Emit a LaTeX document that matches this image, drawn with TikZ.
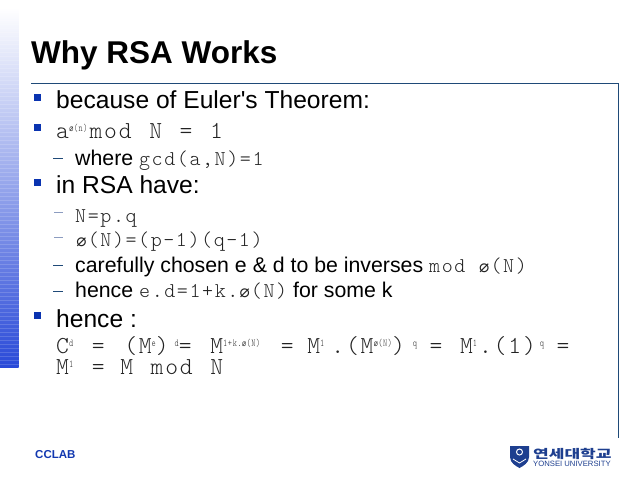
\documentclass[tikz,border=0pt]{standalone}
\usepackage{fontspec}
\setmainfont{Liberation Sans}
\setmonofont{Latin Modern Mono Light}[LetterSpace=7.5]
\definecolor{bulletblue}{HTML}{0A33B0}
\definecolor{rulenavy}{HTML}{1F4A78}
\definecolor{dashpale}{HTML}{8C9CC0}
\definecolor{monogray}{HTML}{222222}
\definecolor{barblue}{HTML}{2A4AD8}
\definecolor{labblue}{HTML}{1238B0}
\definecolor{yonsei}{HTML}{1E3F8F}
\newcommand{\mono}[2]{{\ttfamily\fontsize{#1}{#1}\selectfont\color{monogray}#2}}
\newcommand{\up}[1]{\raisebox{6.5pt}{\scalebox{0.76}[1]{\fontsize{10.5}{10.5}\selectfont #1}}}
\newcommand{\phisym}{\makebox[0.6em]{{\fontspec{DejaVu Sans}\fontsize{17}{17}\selectfont\char"2300}}}
\newcommand{\phiup}{\makebox[0.6em]{{\fontspec{DejaVu Sans}\fontsize{9}{9}\selectfont\char"2300}}}
\newcommand{\sk}[1]{\hspace{#1pt}}
\tikzset{
  body/.style={anchor=base west,inner sep=0pt,font=\fontsize{24.6}{26}\selectfont,text=black},
  sub/.style={anchor=base west,inner sep=0pt,font=\fontsize{21.3}{24}\selectfont,text=black},
  sq/.style={fill=bulletblue,minimum size=7pt,inner sep=0pt,draw=none},
}
\begin{document}
\begin{tikzpicture}[x=1pt,y=-1pt]
\useasboundingbox (0,0) rectangle (638,479);
\shade[top color=white,bottom color=barblue,shading angle=0] (0,8) rectangle (18.7,367);
\foreach \y in {12,16,...,364} \draw[white,opacity=0.16,line width=1pt] (0,\y) -- (18.7,\y);
\node[anchor=base west,inner sep=0pt,font=\bfseries\fontsize{31.5}{34}\selectfont] (title) at (31,63) {Why RSA Works};
\coordinate (ruleL) at (31,83); \coordinate (ruleR) at (618,83); \coordinate (ruleB) at (618,438);
\draw[rulenavy,line width=0.8pt] (ruleL) -- (ruleR) -- (ruleB);
\foreach \y in {97,127,182,315} \node[sq] at (37,\y) {};
\foreach \y in {157.5,265,290.5} \fill[rulenavy] (52.5,\y) rectangle (63,\y+1.4);
\foreach \y in {212,237} \fill[dashpale] (53.5,\y) rectangle (63,\y+1.4);
\node[body] (a) at (56,108) {because of Euler\textquotesingle s Theorem:};
\node[body] (b) at (56,138) {\mono{24.4}{a\up{\phiup(n)}\sk{2}mod \sk{3}N \sk{3}= \sk{3}1}};
\node[sub] (c) at (75,165) {where \mono{21}{gcd(a,N)=1}};
\node[body] (d) at (56,193) {in RSA have:};
\node[sub] (e) at (75,222) {\mono{21}{N=p.q}};
\node[sub] (f) at (75,246) {\mono{21}{\phisym(N)=(p-1)(q-1)}};
\node[sub] (g) at (75,272) {carefully chosen e \& d to be inverses \mono{21}{mod \phisym(N)}};
\node[sub] (h) at (75,297) {hence \mono{21}{e.d=1+k.\phisym(N)} for some k};
\node[body] (i) at (56,327) {hence :};
\node[body] (j) at (56,353) {\mono{24.4}{C\up{d}\sk{4} = \sk{5}(M\up{e})\sk{6}\up{d}= \sk{4}M\up{1+k.\phiup(N)} \sk{6}= \sk{-1}M\up{1}\sk{7}.(M\up{\phiup(N)})\sk{8}\up{q} \sk{-2}= \sk{3}M\up{1}\sk{2}.(1)\sk{4}\up{q} \sk{-2}=}};
\node[body] (k) at (56,374) {\mono{24.4}{M\up{1}\sk{4} = \sk{1}M \sk{3}mod \sk{3}N}};
\node[anchor=base west,inner sep=0pt,font=\bfseries\fontsize{11.5}{12}\selectfont,text=labblue] (lab) at (35,458) {CCLAB};
\fill[yonsei] (510,446) -- (529,446) -- (529,457) .. controls (529,463) and (523,466) .. (519.5,468) .. controls (516,466) and (510,463) .. (510,457) -- cycle;
\draw[white,line width=1pt] (519.5,452) circle (3);
\draw[white,line width=0.8pt] (513,459) -- (519.5,463) -- (526,459);
\node[anchor=base west,inner sep=0pt,text=yonsei] (kr) at (533,458.5) {\scalebox{1.42}[1]{\fontspec{Noto Sans CJK KR}\fontsize{12}{12}\selectfont\bfseries 연세대학교}};
\node[anchor=base west,inner sep=0pt,font=\fontsize{7.7}{8}\selectfont,text=yonsei] (en) at (533,466) {YONSEI UNIVERSITY};
\end{tikzpicture}
\end{document}
